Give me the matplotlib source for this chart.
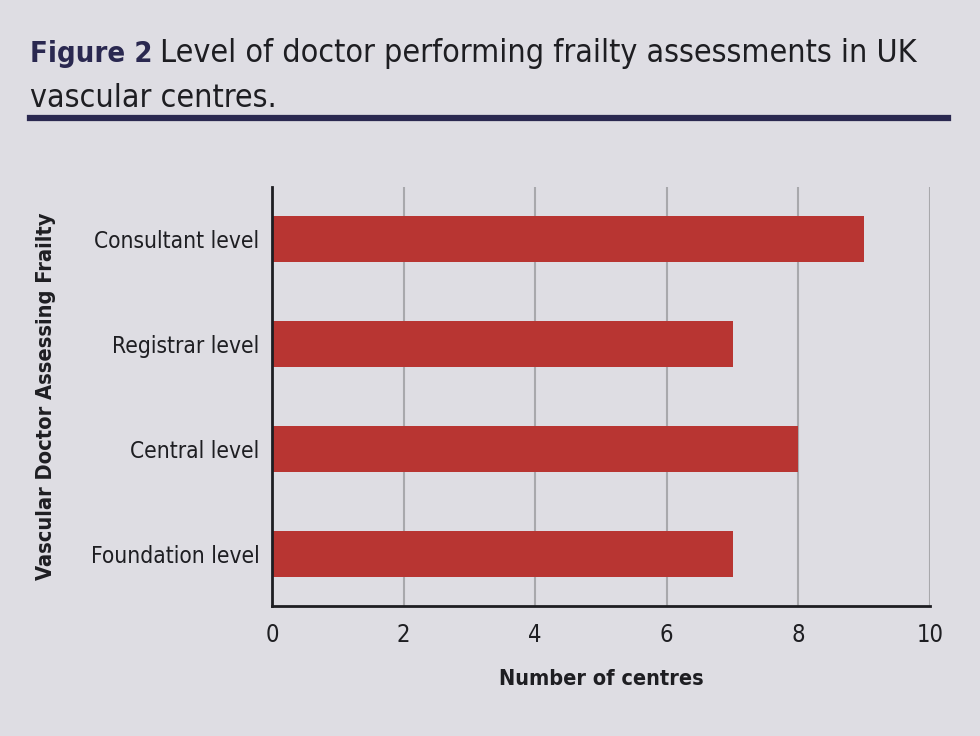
import matplotlib
matplotlib.use("Agg")
import matplotlib.pyplot as plt

categories = ["Consultant level", "Registrar level", "Central level", "Foundation level"]
values = [9, 7, 8, 7]
xticks = [0, 2, 4, 6, 8, 10]

plt.rcParams["font.family"] = ["DejaVu Sans"]
plt.rcParams["font.stretch"] = "condensed"

bg = "#dedde3"
navy = "#2a2850"
red = "#b83532"
text = "#1e1e22"

fig = plt.figure(figsize=(9.8, 7.36), dpi=100, facecolor=bg)
ax = fig.add_axes([272/980, 1-606/736, (930-272)/980, (606-187)/736])
ax.set_facecolor(bg)

ypos = list(range(len(categories)))[::-1]
ax.barh(ypos, values, height=0.44, color=red, zorder=3)
ax.set_ylim(-0.5, 3.5)
ax.set_xlim(0, 10)
ax.set_xticks(xticks)
ax.set_xticklabels([str(t) for t in xticks], fontsize=17, color=text)
ax.set_yticks(ypos)
ax.set_yticklabels(categories, fontsize=16.3, color=text)
ax.tick_params(axis="y", length=0, pad=9)
ax.tick_params(axis="x", length=0, pad=12)
ax.grid(axis="x", color="#a8a8ac", linewidth=1.5, zorder=1)
for s in ["top", "right"]:
    ax.spines[s].set_visible(False)
for s in ["left", "bottom"]:
    ax.spines[s].set_color(text)
    ax.spines[s].set_linewidth(2)
    ax.spines[s].set_zorder(4)
ax.set_xlabel("Number of centres", fontsize=15.6, fontweight="bold", color=text, labelpad=16)
ax.set_ylabel("Vascular Doctor Assessing Frailty", fontsize=15.7, fontweight="bold", color=text)
ax.yaxis.set_label_coords(-216/658, 0.5)

t1 = fig.text(30/980, 1-62/736, "Figure 2", fontsize=21, fontweight="bold", color=navy, va="baseline")
fig.canvas.draw()
bb = t1.get_window_extent()
fig.text((bb.x1 + 7)/980, 1-62/736, "Level of doctor performing frailty assessments in UK",
         fontsize=23, color=text, va="baseline")
fig.text(30/980, 1-107/736, "vascular centres.", fontsize=23, color=text, va="baseline")
fig.add_artist(plt.Line2D([30/980, 948/980], [1-118/736, 1-118/736], color=navy, linewidth=4.5))

fig.savefig("out.png", dpi=100, facecolor=bg)
